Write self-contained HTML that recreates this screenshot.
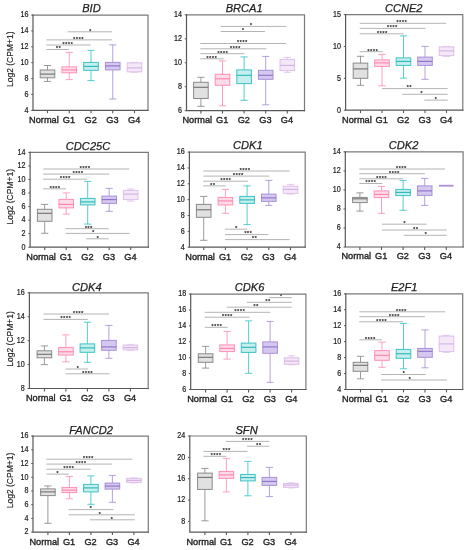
<!DOCTYPE html>
<html><head><meta charset="utf-8"><title>Box plots</title>
<style>
html,body{margin:0;padding:0;background:#fff;}
body{width:469px;height:550px;overflow:hidden;}
svg{display:block;}
text{font-family:'Liberation Sans', Arial, Helvetica, sans-serif;fill:#222222;}
.st{font-size:5.0px;text-anchor:middle;fill:#333;font-weight:bold;letter-spacing:0.8px;stroke:#333;stroke-width:0.15px;}
.yt{font-size:8.4px;text-anchor:end;stroke:#222222;stroke-width:0.22px;}
.xt{font-size:9.2px;text-anchor:middle;stroke:#222222;stroke-width:0.35px;}
.ti{font-size:11.1px;text-anchor:middle;font-style:italic;stroke:#222222;stroke-width:0.25px;}
.yl{font-size:8.5px;text-anchor:middle;stroke:#222222;stroke-width:0.15px;}
</style></head>
<body>
<svg width="469" height="550" viewBox="0 0 469 550">
<rect width="469" height="550" fill="#fff"/>
<g>
<line x1="46.4" y1="49.5" x2="68.8" y2="49.5" stroke="#b4b4b4" stroke-width="1.0"/>
<text x="58.8" y="50.3" class="st">**</text>
<line x1="46.4" y1="45" x2="90.7" y2="45" stroke="#b4b4b4" stroke-width="1.0"/>
<text x="68.1" y="45.8" class="st">****</text>
<line x1="46.4" y1="39.9" x2="112.1" y2="39.9" stroke="#b4b4b4" stroke-width="1.0"/>
<text x="78.8" y="40.7" class="st">****</text>
<line x1="67.7" y1="31.8" x2="112.1" y2="31.8" stroke="#b4b4b4" stroke-width="1.0"/>
<text x="90.7" y="32.6" class="st">*</text>
<path d="M47.5 65.5V70M47.5 77.8V81.4M43.9 65.5H51.1M43.9 81.4H51.1" stroke="#8a8a8a" stroke-width="1" fill="none" opacity="0.85"/>
<rect x="40.2" y="70" width="14.6" height="7.8" fill="#e1e1e1" stroke="#8a8a8a" stroke-width="1"/>
<line x1="40.2" y1="74.1" x2="54.8" y2="74.1" stroke="#707070" stroke-width="1.1"/>
<path d="M69.25 52.4V66.9M69.25 72.8V79.6M65.65 52.4H72.85M65.65 79.6H72.85" stroke="#ff8fb8" stroke-width="1" fill="none" opacity="0.85"/>
<rect x="61.95" y="66.9" width="14.6" height="5.9" fill="#ffdbe8" stroke="#ff8fb8" stroke-width="1"/>
<line x1="61.95" y1="69.9" x2="76.55" y2="69.9" stroke="#ff80ad" stroke-width="1.1"/>
<path d="M91 50.4V62.4M91 70.3V80.6M87.4 50.4H94.6M87.4 80.6H94.6" stroke="#3cc4c4" stroke-width="1" fill="none" opacity="0.85"/>
<rect x="83.7" y="62.4" width="14.6" height="7.9" fill="#c6eeee" stroke="#3cc4c4" stroke-width="1"/>
<line x1="83.7" y1="66.4" x2="98.3" y2="66.4" stroke="#28b6b6" stroke-width="1.1"/>
<path d="M112.75 44.9V62.4M112.75 69.9V99M109.15 44.9H116.35M109.15 99H116.35" stroke="#a98fdb" stroke-width="1" fill="none" opacity="0.85"/>
<rect x="105.45" y="62.4" width="14.6" height="7.5" fill="#d5c8ee" stroke="#a98fdb" stroke-width="1"/>
<line x1="105.45" y1="65.9" x2="120.05" y2="65.9" stroke="#8f6fca" stroke-width="1.1"/>
<path d="M134.5 62.4V62.9M134.5 71.8V72.3M130.9 62.4H138.1M130.9 72.3H138.1" stroke="#ddc0e9" stroke-width="1" fill="none" opacity="0.85"/>
<rect x="127.2" y="62.9" width="14.6" height="8.9" fill="#f4e7f7" stroke="#ddc0e9" stroke-width="1"/>
<line x1="127.2" y1="67.9" x2="141.8" y2="67.9" stroke="#d2b0e2" stroke-width="1.1"/>
<path d="M33 15.1H148V110.3" fill="none" stroke="#7a7a7a" stroke-width="1.2" stroke-linecap="square"/>
<path d="M33 15.1V110.3H148" fill="none" stroke="#585858" stroke-width="1.2" stroke-linecap="square"/>
<line x1="31.2" y1="110.3" x2="33" y2="110.3" stroke="#585858" stroke-width="1"/>
<text transform="translate(28.4 112.6) scale(0.85 1)" class="yt">4</text>
<line x1="31.2" y1="94.43" x2="33" y2="94.43" stroke="#585858" stroke-width="1"/>
<text transform="translate(28.4 96.73) scale(0.85 1)" class="yt">6</text>
<line x1="31.2" y1="78.57" x2="33" y2="78.57" stroke="#585858" stroke-width="1"/>
<text transform="translate(28.4 80.87) scale(0.85 1)" class="yt">8</text>
<line x1="31.2" y1="62.7" x2="33" y2="62.7" stroke="#585858" stroke-width="1"/>
<text transform="translate(28.4 65) scale(0.85 1)" class="yt">10</text>
<line x1="31.2" y1="46.83" x2="33" y2="46.83" stroke="#585858" stroke-width="1"/>
<text transform="translate(28.4 49.13) scale(0.85 1)" class="yt">12</text>
<line x1="31.2" y1="30.97" x2="33" y2="30.97" stroke="#585858" stroke-width="1"/>
<text transform="translate(28.4 33.27) scale(0.85 1)" class="yt">14</text>
<line x1="31.2" y1="15.1" x2="33" y2="15.1" stroke="#585858" stroke-width="1"/>
<text transform="translate(28.4 17.4) scale(0.85 1)" class="yt">16</text>
<line x1="47.5" y1="110.3" x2="47.5" y2="113.2" stroke="#585858" stroke-width="1.1"/>
<text x="43.9" y="122.7" class="xt">Normal</text>
<line x1="69.25" y1="110.3" x2="69.25" y2="113.2" stroke="#585858" stroke-width="1.1"/>
<text x="68.95" y="122.7" class="xt">G1</text>
<line x1="91" y1="110.3" x2="91" y2="113.2" stroke="#585858" stroke-width="1.1"/>
<text x="90.7" y="122.7" class="xt">G2</text>
<line x1="112.75" y1="110.3" x2="112.75" y2="113.2" stroke="#585858" stroke-width="1.1"/>
<text x="112.45" y="122.7" class="xt">G3</text>
<line x1="134.5" y1="110.3" x2="134.5" y2="113.2" stroke="#585858" stroke-width="1.1"/>
<text x="134.2" y="122.7" class="xt">G4</text>
<text x="91.45" y="12" class="ti">BID</text>
<text transform="translate(13.3 59.3) rotate(-90)" x="0" y="0" class="yl">Log2 (CPM+1)</text>
</g>
<g>
<line x1="200.3" y1="58.8" x2="223.8" y2="58.8" stroke="#b4b4b4" stroke-width="1.0"/>
<text x="211.9" y="59.6" class="st">****</text>
<line x1="200.3" y1="53.7" x2="244.5" y2="53.7" stroke="#b4b4b4" stroke-width="1.0"/>
<text x="223.1" y="54.5" class="st">****</text>
<line x1="200.3" y1="48.8" x2="266.4" y2="48.8" stroke="#b4b4b4" stroke-width="1.0"/>
<text x="235.6" y="49.6" class="st">****</text>
<line x1="200.3" y1="43.5" x2="286.3" y2="43.5" stroke="#b4b4b4" stroke-width="1.0"/>
<text x="242.6" y="44.3" class="st">****</text>
<line x1="220.6" y1="31.5" x2="264.9" y2="31.5" stroke="#b4b4b4" stroke-width="1.0"/>
<text x="243.4" y="32.3" class="st">*</text>
<line x1="220.6" y1="26.4" x2="286.3" y2="26.4" stroke="#b4b4b4" stroke-width="1.0"/>
<text x="251.3" y="27.2" class="st">*</text>
<path d="M200.9 77.3V82.3M200.9 98.5V106.3M197.3 77.3H204.5M197.3 106.3H204.5" stroke="#8a8a8a" stroke-width="1" fill="none" opacity="0.85"/>
<rect x="193.6" y="82.3" width="14.6" height="16.2" fill="#e1e1e1" stroke="#8a8a8a" stroke-width="1"/>
<line x1="193.6" y1="87.3" x2="208.2" y2="87.3" stroke="#707070" stroke-width="1.1"/>
<path d="M222.5 60.9V74.3M222.5 85.3V105.8M218.9 60.9H226.1M218.9 105.8H226.1" stroke="#ff8fb8" stroke-width="1" fill="none" opacity="0.85"/>
<rect x="215.2" y="74.3" width="14.6" height="11" fill="#ffdbe8" stroke="#ff8fb8" stroke-width="1"/>
<line x1="215.2" y1="78.8" x2="229.8" y2="78.8" stroke="#ff80ad" stroke-width="1.1"/>
<path d="M244.1 56.9V69.9M244.1 83.6V100.3M240.5 56.9H247.7M240.5 100.3H247.7" stroke="#3cc4c4" stroke-width="1" fill="none" opacity="0.85"/>
<rect x="236.8" y="69.9" width="14.6" height="13.7" fill="#c6eeee" stroke="#3cc4c4" stroke-width="1"/>
<line x1="236.8" y1="75.3" x2="251.4" y2="75.3" stroke="#28b6b6" stroke-width="1.1"/>
<path d="M265.7 56.4V70.3M265.7 79.3V104.8M262.1 56.4H269.3M262.1 104.8H269.3" stroke="#a98fdb" stroke-width="1" fill="none" opacity="0.85"/>
<rect x="258.4" y="70.3" width="14.6" height="9" fill="#d5c8ee" stroke="#a98fdb" stroke-width="1"/>
<line x1="258.4" y1="75.3" x2="273" y2="75.3" stroke="#8f6fca" stroke-width="1.1"/>
<path d="M287.3 57.4V59.4M287.3 70.6V72.3M283.7 57.4H290.9M283.7 72.3H290.9" stroke="#ddc0e9" stroke-width="1" fill="none" opacity="0.85"/>
<rect x="280" y="59.4" width="14.6" height="11.2" fill="#f4e7f7" stroke="#ddc0e9" stroke-width="1"/>
<line x1="280" y1="65.4" x2="294.6" y2="65.4" stroke="#d2b0e2" stroke-width="1.1"/>
<path d="M186.5 14.85H304.5V110.7" fill="none" stroke="#7a7a7a" stroke-width="1.2" stroke-linecap="square"/>
<path d="M186.5 14.85V110.7H304.5" fill="none" stroke="#585858" stroke-width="1.2" stroke-linecap="square"/>
<line x1="184.7" y1="110.7" x2="186.5" y2="110.7" stroke="#585858" stroke-width="1"/>
<text transform="translate(181.9 113) scale(0.85 1)" class="yt">6</text>
<line x1="184.7" y1="86.74" x2="186.5" y2="86.74" stroke="#585858" stroke-width="1"/>
<text transform="translate(181.9 89.04) scale(0.85 1)" class="yt">8</text>
<line x1="184.7" y1="62.77" x2="186.5" y2="62.77" stroke="#585858" stroke-width="1"/>
<text transform="translate(181.9 65.08) scale(0.85 1)" class="yt">10</text>
<line x1="184.7" y1="38.81" x2="186.5" y2="38.81" stroke="#585858" stroke-width="1"/>
<text transform="translate(181.9 41.11) scale(0.85 1)" class="yt">12</text>
<line x1="184.7" y1="14.85" x2="186.5" y2="14.85" stroke="#585858" stroke-width="1"/>
<text transform="translate(181.9 17.15) scale(0.85 1)" class="yt">14</text>
<line x1="200.9" y1="110.7" x2="200.9" y2="113.6" stroke="#585858" stroke-width="1.1"/>
<text x="197.3" y="123.1" class="xt">Normal</text>
<line x1="222.5" y1="110.7" x2="222.5" y2="113.6" stroke="#585858" stroke-width="1.1"/>
<text x="222.2" y="123.1" class="xt">G1</text>
<line x1="244.1" y1="110.7" x2="244.1" y2="113.6" stroke="#585858" stroke-width="1.1"/>
<text x="243.8" y="123.1" class="xt">G2</text>
<line x1="265.7" y1="110.7" x2="265.7" y2="113.6" stroke="#585858" stroke-width="1.1"/>
<text x="265.4" y="123.1" class="xt">G3</text>
<line x1="287.3" y1="110.7" x2="287.3" y2="113.6" stroke="#585858" stroke-width="1.1"/>
<text x="287" y="123.1" class="xt">G4</text>
<text x="244.2" y="12" class="ti">BRCA1</text>
</g>
<g>
<line x1="359.7" y1="51.7" x2="382.7" y2="51.7" stroke="#b4b4b4" stroke-width="1.0"/>
<text x="373.1" y="52.5" class="st">****</text>
<line x1="359.7" y1="33.8" x2="403.6" y2="33.8" stroke="#b4b4b4" stroke-width="1.0"/>
<text x="382.5" y="34.6" class="st">****</text>
<line x1="359.7" y1="28.4" x2="425.4" y2="28.4" stroke="#b4b4b4" stroke-width="1.0"/>
<text x="392.4" y="29.2" class="st">****</text>
<line x1="359.7" y1="23.3" x2="446.3" y2="23.3" stroke="#b4b4b4" stroke-width="1.0"/>
<text x="402" y="24.1" class="st">****</text>
<line x1="381.9" y1="88.6" x2="447.7" y2="88.6" stroke="#b4b4b4" stroke-width="1.0"/>
<text x="409.6" y="89.4" class="st">**</text>
<line x1="402.2" y1="94.3" x2="447.7" y2="94.3" stroke="#b4b4b4" stroke-width="1.0"/>
<text x="421.8" y="95.1" class="st">*</text>
<line x1="424.3" y1="100.1" x2="447.7" y2="100.1" stroke="#b4b4b4" stroke-width="1.0"/>
<text x="436" y="100.9" class="st">*</text>
<path d="M360.5 56.3V63.1M360.5 78.3V85.3M356.9 56.3H364.1M356.9 85.3H364.1" stroke="#8a8a8a" stroke-width="1" fill="none" opacity="0.85"/>
<rect x="353.2" y="63.1" width="14.6" height="15.2" fill="#e1e1e1" stroke="#8a8a8a" stroke-width="1"/>
<line x1="353.2" y1="68.9" x2="367.8" y2="68.9" stroke="#707070" stroke-width="1.1"/>
<path d="M382 54.4V59.9M382 66.4V85.8M378.4 54.4H385.6M378.4 85.8H385.6" stroke="#ff8fb8" stroke-width="1" fill="none" opacity="0.85"/>
<rect x="374.7" y="59.9" width="14.6" height="6.5" fill="#ffdbe8" stroke="#ff8fb8" stroke-width="1"/>
<line x1="374.7" y1="62.9" x2="389.3" y2="62.9" stroke="#ff80ad" stroke-width="1.1"/>
<path d="M403.5 35.9V57.9M403.5 65.4V78.1M399.9 35.9H407.1M399.9 78.1H407.1" stroke="#3cc4c4" stroke-width="1" fill="none" opacity="0.85"/>
<rect x="396.2" y="57.9" width="14.6" height="7.5" fill="#c6eeee" stroke="#3cc4c4" stroke-width="1"/>
<line x1="396.2" y1="61.4" x2="410.8" y2="61.4" stroke="#28b6b6" stroke-width="1.1"/>
<path d="M425 46.4V57.1M425 65.4V79.3M421.4 46.4H428.6M421.4 79.3H428.6" stroke="#a98fdb" stroke-width="1" fill="none" opacity="0.85"/>
<rect x="417.7" y="57.1" width="14.6" height="8.3" fill="#d5c8ee" stroke="#a98fdb" stroke-width="1"/>
<line x1="417.7" y1="61.4" x2="432.3" y2="61.4" stroke="#8f6fca" stroke-width="1.1"/>
<path d="M446.5 46.4V46.9M446.5 55.6V56.4M442.9 46.4H450.1M442.9 56.4H450.1" stroke="#ddc0e9" stroke-width="1" fill="none" opacity="0.85"/>
<rect x="439.2" y="46.9" width="14.6" height="8.7" fill="#f4e7f7" stroke="#ddc0e9" stroke-width="1"/>
<line x1="439.2" y1="50.9" x2="453.8" y2="50.9" stroke="#d2b0e2" stroke-width="1.1"/>
<path d="M345.6 14.6H462.8V110.2" fill="none" stroke="#7a7a7a" stroke-width="1.2" stroke-linecap="square"/>
<path d="M345.6 14.6V110.2H462.8" fill="none" stroke="#585858" stroke-width="1.2" stroke-linecap="square"/>
<line x1="343.8" y1="110.2" x2="345.6" y2="110.2" stroke="#585858" stroke-width="1"/>
<text transform="translate(341 112.5) scale(0.85 1)" class="yt">0</text>
<line x1="343.8" y1="78.33" x2="345.6" y2="78.33" stroke="#585858" stroke-width="1"/>
<text transform="translate(341 80.63) scale(0.85 1)" class="yt">5</text>
<line x1="343.8" y1="46.47" x2="345.6" y2="46.47" stroke="#585858" stroke-width="1"/>
<text transform="translate(341 48.77) scale(0.85 1)" class="yt">10</text>
<line x1="343.8" y1="14.6" x2="345.6" y2="14.6" stroke="#585858" stroke-width="1"/>
<text transform="translate(341 16.9) scale(0.85 1)" class="yt">15</text>
<line x1="360.5" y1="110.2" x2="360.5" y2="113.1" stroke="#585858" stroke-width="1.1"/>
<text x="356.9" y="122.6" class="xt">Normal</text>
<line x1="382" y1="110.2" x2="382" y2="113.1" stroke="#585858" stroke-width="1.1"/>
<text x="381.7" y="122.6" class="xt">G1</text>
<line x1="403.5" y1="110.2" x2="403.5" y2="113.1" stroke="#585858" stroke-width="1.1"/>
<text x="403.2" y="122.6" class="xt">G2</text>
<line x1="425" y1="110.2" x2="425" y2="113.1" stroke="#585858" stroke-width="1.1"/>
<text x="424.7" y="122.6" class="xt">G3</text>
<line x1="446.5" y1="110.2" x2="446.5" y2="113.1" stroke="#585858" stroke-width="1.1"/>
<text x="446.2" y="122.6" class="xt">G4</text>
<text x="403.7" y="12" class="ti">CCNE2</text>
</g>
<g>
<line x1="43.2" y1="188.8" x2="66" y2="188.8" stroke="#b4b4b4" stroke-width="1.0"/>
<text x="55.3" y="189.6" class="st">****</text>
<line x1="43.2" y1="179.2" x2="87.3" y2="179.2" stroke="#b4b4b4" stroke-width="1.0"/>
<text x="65.45" y="180" class="st">****</text>
<line x1="43.2" y1="174.1" x2="109.3" y2="174.1" stroke="#b4b4b4" stroke-width="1.0"/>
<text x="78.2" y="174.9" class="st">****</text>
<line x1="43.2" y1="169" x2="129.1" y2="169" stroke="#b4b4b4" stroke-width="1.0"/>
<text x="85.2" y="169.8" class="st">****</text>
<line x1="65.6" y1="228.7" x2="108.7" y2="228.7" stroke="#b4b4b4" stroke-width="1.0"/>
<text x="89" y="229.5" class="st">***</text>
<line x1="65.6" y1="233.4" x2="129.6" y2="233.4" stroke="#b4b4b4" stroke-width="1.0"/>
<text x="93.7" y="234.2" class="st">*</text>
<line x1="86.1" y1="238.8" x2="108.7" y2="238.8" stroke="#b4b4b4" stroke-width="1.0"/>
<text x="98" y="239.6" class="st">*</text>
<path d="M44.7 204.4V209.3M44.7 221.3V233.3M41.1 204.4H48.3M41.1 233.3H48.3" stroke="#8a8a8a" stroke-width="1" fill="none" opacity="0.85"/>
<rect x="37.4" y="209.3" width="14.6" height="12" fill="#e1e1e1" stroke="#8a8a8a" stroke-width="1"/>
<line x1="37.4" y1="213.3" x2="52" y2="213.3" stroke="#707070" stroke-width="1.1"/>
<path d="M66.2 192.9V199.4M66.2 207.9V214.1M62.6 192.9H69.8M62.6 214.1H69.8" stroke="#ff8fb8" stroke-width="1" fill="none" opacity="0.85"/>
<rect x="58.9" y="199.4" width="14.6" height="8.5" fill="#ffdbe8" stroke="#ff8fb8" stroke-width="1"/>
<line x1="58.9" y1="204.4" x2="73.5" y2="204.4" stroke="#ff80ad" stroke-width="1.1"/>
<path d="M87.7 181.4V198.4M87.7 204.9V224.1M84.1 181.4H91.3M84.1 224.1H91.3" stroke="#3cc4c4" stroke-width="1" fill="none" opacity="0.85"/>
<rect x="80.4" y="198.4" width="14.6" height="6.5" fill="#c6eeee" stroke="#3cc4c4" stroke-width="1"/>
<line x1="80.4" y1="201.9" x2="95" y2="201.9" stroke="#28b6b6" stroke-width="1.1"/>
<path d="M109.2 188.4V196.1M109.2 203.4V211.3M105.6 188.4H112.8M105.6 211.3H112.8" stroke="#a98fdb" stroke-width="1" fill="none" opacity="0.85"/>
<rect x="101.9" y="196.1" width="14.6" height="7.3" fill="#d5c8ee" stroke="#a98fdb" stroke-width="1"/>
<line x1="101.9" y1="199.6" x2="116.5" y2="199.6" stroke="#8f6fca" stroke-width="1.1"/>
<path d="M130.7 189.1V190.4M130.7 199.6V201.1M127.1 189.1H134.3M127.1 201.1H134.3" stroke="#ddc0e9" stroke-width="1" fill="none" opacity="0.85"/>
<rect x="123.4" y="190.4" width="14.6" height="9.2" fill="#f4e7f7" stroke="#ddc0e9" stroke-width="1"/>
<line x1="123.4" y1="194.1" x2="138" y2="194.1" stroke="#d2b0e2" stroke-width="1.1"/>
<path d="M30.1 152.4H148.3V247.2" fill="none" stroke="#7a7a7a" stroke-width="1.2" stroke-linecap="square"/>
<path d="M30.1 152.4V247.2H148.3" fill="none" stroke="#585858" stroke-width="1.2" stroke-linecap="square"/>
<line x1="28.3" y1="247.2" x2="30.1" y2="247.2" stroke="#585858" stroke-width="1"/>
<text transform="translate(25.5 249.5) scale(0.85 1)" class="yt">0</text>
<line x1="28.3" y1="233.66" x2="30.1" y2="233.66" stroke="#585858" stroke-width="1"/>
<text transform="translate(25.5 235.96) scale(0.85 1)" class="yt">2</text>
<line x1="28.3" y1="220.11" x2="30.1" y2="220.11" stroke="#585858" stroke-width="1"/>
<text transform="translate(25.5 222.41) scale(0.85 1)" class="yt">4</text>
<line x1="28.3" y1="206.57" x2="30.1" y2="206.57" stroke="#585858" stroke-width="1"/>
<text transform="translate(25.5 208.87) scale(0.85 1)" class="yt">6</text>
<line x1="28.3" y1="193.03" x2="30.1" y2="193.03" stroke="#585858" stroke-width="1"/>
<text transform="translate(25.5 195.33) scale(0.85 1)" class="yt">8</text>
<line x1="28.3" y1="179.49" x2="30.1" y2="179.49" stroke="#585858" stroke-width="1"/>
<text transform="translate(25.5 181.79) scale(0.85 1)" class="yt">10</text>
<line x1="28.3" y1="165.94" x2="30.1" y2="165.94" stroke="#585858" stroke-width="1"/>
<text transform="translate(25.5 168.24) scale(0.85 1)" class="yt">12</text>
<line x1="28.3" y1="152.4" x2="30.1" y2="152.4" stroke="#585858" stroke-width="1"/>
<text transform="translate(25.5 154.7) scale(0.85 1)" class="yt">14</text>
<line x1="44.7" y1="247.2" x2="44.7" y2="250.1" stroke="#585858" stroke-width="1.1"/>
<text x="41.1" y="259.6" class="xt">Normal</text>
<line x1="66.2" y1="247.2" x2="66.2" y2="250.1" stroke="#585858" stroke-width="1.1"/>
<text x="65.9" y="259.6" class="xt">G1</text>
<line x1="87.7" y1="247.2" x2="87.7" y2="250.1" stroke="#585858" stroke-width="1.1"/>
<text x="87.4" y="259.6" class="xt">G2</text>
<line x1="109.2" y1="247.2" x2="109.2" y2="250.1" stroke="#585858" stroke-width="1.1"/>
<text x="108.9" y="259.6" class="xt">G3</text>
<line x1="130.7" y1="247.2" x2="130.7" y2="250.1" stroke="#585858" stroke-width="1.1"/>
<text x="130.4" y="259.6" class="xt">G4</text>
<text x="88.05" y="149.6" class="ti">CDC25C</text>
<text transform="translate(13.3 196.8) rotate(-90)" x="0" y="0" class="yl">Log2 (CPM+1)</text>
</g>
<g>
<line x1="203.3" y1="185.9" x2="225.7" y2="185.9" stroke="#b4b4b4" stroke-width="1.0"/>
<text x="212.9" y="186.7" class="st">**</text>
<line x1="203.3" y1="181.2" x2="248.1" y2="181.2" stroke="#b4b4b4" stroke-width="1.0"/>
<text x="226" y="182" class="st">****</text>
<line x1="203.3" y1="176.1" x2="269.4" y2="176.1" stroke="#b4b4b4" stroke-width="1.0"/>
<text x="238.4" y="176.9" class="st">****</text>
<line x1="203.3" y1="171" x2="289.7" y2="171" stroke="#b4b4b4" stroke-width="1.0"/>
<text x="245.3" y="171.8" class="st">****</text>
<line x1="225" y1="229.2" x2="247.2" y2="229.2" stroke="#b4b4b4" stroke-width="1.0"/>
<text x="236.5" y="230" class="st">*</text>
<line x1="225" y1="234.6" x2="268.4" y2="234.6" stroke="#b4b4b4" stroke-width="1.0"/>
<text x="248.5" y="235.4" class="st">***</text>
<line x1="225" y1="239.6" x2="289.5" y2="239.6" stroke="#b4b4b4" stroke-width="1.0"/>
<text x="254.7" y="240.4" class="st">**</text>
<path d="M203.7 196.4V204.4M203.7 217.3V240.3M200.1 196.4H207.3M200.1 240.3H207.3" stroke="#8a8a8a" stroke-width="1" fill="none" opacity="0.85"/>
<rect x="196.4" y="204.4" width="14.6" height="12.9" fill="#e1e1e1" stroke="#8a8a8a" stroke-width="1"/>
<line x1="196.4" y1="209.8" x2="211" y2="209.8" stroke="#707070" stroke-width="1.1"/>
<path d="M225.4 189.4V197.4M225.4 204.9V213.3M221.8 189.4H229M221.8 213.3H229" stroke="#ff8fb8" stroke-width="1" fill="none" opacity="0.85"/>
<rect x="218.1" y="197.4" width="14.6" height="7.5" fill="#ffdbe8" stroke="#ff8fb8" stroke-width="1"/>
<line x1="218.1" y1="200.9" x2="232.7" y2="200.9" stroke="#ff80ad" stroke-width="1.1"/>
<path d="M247.1 185.9V196.4M247.1 203.4V224.6M243.5 185.9H250.7M243.5 224.6H250.7" stroke="#3cc4c4" stroke-width="1" fill="none" opacity="0.85"/>
<rect x="239.8" y="196.4" width="14.6" height="7" fill="#c6eeee" stroke="#3cc4c4" stroke-width="1"/>
<line x1="239.8" y1="199.9" x2="254.4" y2="199.9" stroke="#28b6b6" stroke-width="1.1"/>
<path d="M268.8 180.4V194.1M268.8 201.4V205.4M265.2 180.4H272.4M265.2 205.4H272.4" stroke="#a98fdb" stroke-width="1" fill="none" opacity="0.85"/>
<rect x="261.5" y="194.1" width="14.6" height="7.3" fill="#d5c8ee" stroke="#a98fdb" stroke-width="1"/>
<line x1="261.5" y1="197.9" x2="276.1" y2="197.9" stroke="#8f6fca" stroke-width="1.1"/>
<path d="M290.5 184.4V186.2M290.5 193.4V194.1M286.9 184.4H294.1M286.9 194.1H294.1" stroke="#ddc0e9" stroke-width="1" fill="none" opacity="0.85"/>
<rect x="283.2" y="186.2" width="14.6" height="7.2" fill="#f4e7f7" stroke="#ddc0e9" stroke-width="1"/>
<line x1="283.2" y1="189.4" x2="297.8" y2="189.4" stroke="#d2b0e2" stroke-width="1.1"/>
<path d="M189.4 152.1H305.2V247.2" fill="none" stroke="#7a7a7a" stroke-width="1.2" stroke-linecap="square"/>
<path d="M189.4 152.1V247.2H305.2" fill="none" stroke="#585858" stroke-width="1.2" stroke-linecap="square"/>
<line x1="187.6" y1="247.2" x2="189.4" y2="247.2" stroke="#585858" stroke-width="1"/>
<text transform="translate(184.8 249.5) scale(0.85 1)" class="yt">4</text>
<line x1="187.6" y1="231.35" x2="189.4" y2="231.35" stroke="#585858" stroke-width="1"/>
<text transform="translate(184.8 233.65) scale(0.85 1)" class="yt">6</text>
<line x1="187.6" y1="215.5" x2="189.4" y2="215.5" stroke="#585858" stroke-width="1"/>
<text transform="translate(184.8 217.8) scale(0.85 1)" class="yt">8</text>
<line x1="187.6" y1="199.65" x2="189.4" y2="199.65" stroke="#585858" stroke-width="1"/>
<text transform="translate(184.8 201.95) scale(0.85 1)" class="yt">10</text>
<line x1="187.6" y1="183.8" x2="189.4" y2="183.8" stroke="#585858" stroke-width="1"/>
<text transform="translate(184.8 186.1) scale(0.85 1)" class="yt">12</text>
<line x1="187.6" y1="167.95" x2="189.4" y2="167.95" stroke="#585858" stroke-width="1"/>
<text transform="translate(184.8 170.25) scale(0.85 1)" class="yt">14</text>
<line x1="187.6" y1="152.1" x2="189.4" y2="152.1" stroke="#585858" stroke-width="1"/>
<text transform="translate(184.8 154.4) scale(0.85 1)" class="yt">16</text>
<line x1="203.7" y1="247.2" x2="203.7" y2="250.1" stroke="#585858" stroke-width="1.1"/>
<text x="200.1" y="259.6" class="xt">Normal</text>
<line x1="225.4" y1="247.2" x2="225.4" y2="250.1" stroke="#585858" stroke-width="1.1"/>
<text x="225.1" y="259.6" class="xt">G1</text>
<line x1="247.1" y1="247.2" x2="247.1" y2="250.1" stroke="#585858" stroke-width="1.1"/>
<text x="246.8" y="259.6" class="xt">G2</text>
<line x1="268.8" y1="247.2" x2="268.8" y2="250.1" stroke="#585858" stroke-width="1.1"/>
<text x="268.5" y="259.6" class="xt">G3</text>
<line x1="290.5" y1="247.2" x2="290.5" y2="250.1" stroke="#585858" stroke-width="1.1"/>
<text x="290.2" y="259.6" class="xt">G4</text>
<text x="247.9" y="149.2" class="ti">CDK1</text>
</g>
<g>
<line x1="359.3" y1="183.5" x2="382.3" y2="183.5" stroke="#b4b4b4" stroke-width="1.0"/>
<text x="370.9" y="184.3" class="st">****</text>
<line x1="359.3" y1="178.8" x2="403" y2="178.8" stroke="#b4b4b4" stroke-width="1.0"/>
<text x="381.7" y="179.6" class="st">****</text>
<line x1="359.3" y1="173.7" x2="424.9" y2="173.7" stroke="#b4b4b4" stroke-width="1.0"/>
<text x="394.5" y="174.5" class="st">****</text>
<line x1="359.3" y1="169" x2="445" y2="169" stroke="#b4b4b4" stroke-width="1.0"/>
<text x="401.5" y="169.8" class="st">****</text>
<line x1="381.9" y1="224.2" x2="426.6" y2="224.2" stroke="#b4b4b4" stroke-width="1.0"/>
<text x="404.9" y="225" class="st">*</text>
<line x1="381.9" y1="230" x2="446.8" y2="230" stroke="#b4b4b4" stroke-width="1.0"/>
<text x="416.1" y="230.8" class="st">**</text>
<line x1="403.6" y1="235.3" x2="446.8" y2="235.3" stroke="#b4b4b4" stroke-width="1.0"/>
<text x="426.1" y="236.1" class="st">*</text>
<path d="M359.9 192.9V197.4M359.9 202.6V211.1M356.3 192.9H363.5M356.3 211.1H363.5" stroke="#8a8a8a" stroke-width="1" fill="none" opacity="0.85"/>
<rect x="352.6" y="197.4" width="14.6" height="5.2" fill="#e1e1e1" stroke="#8a8a8a" stroke-width="1"/>
<line x1="352.6" y1="198.8" x2="367.2" y2="198.8" stroke="#707070" stroke-width="1.1"/>
<path d="M381.5 186.4V190.9M381.5 197.6V213.3M377.9 186.4H385.1M377.9 213.3H385.1" stroke="#ff8fb8" stroke-width="1" fill="none" opacity="0.85"/>
<rect x="374.2" y="190.9" width="14.6" height="6.7" fill="#ffdbe8" stroke="#ff8fb8" stroke-width="1"/>
<line x1="374.2" y1="194.4" x2="388.8" y2="194.4" stroke="#ff80ad" stroke-width="1.1"/>
<path d="M403.1 180.4V189.4M403.1 195.6V210.3M399.5 180.4H406.7M399.5 210.3H406.7" stroke="#3cc4c4" stroke-width="1" fill="none" opacity="0.85"/>
<rect x="395.8" y="189.4" width="14.6" height="6.2" fill="#c6eeee" stroke="#3cc4c4" stroke-width="1"/>
<line x1="395.8" y1="192.4" x2="410.4" y2="192.4" stroke="#28b6b6" stroke-width="1.1"/>
<path d="M424.7 178.4V185.9M424.7 195.4V205.4M421.1 178.4H428.3M421.1 205.4H428.3" stroke="#a98fdb" stroke-width="1" fill="none" opacity="0.85"/>
<rect x="417.4" y="185.9" width="14.6" height="9.5" fill="#d5c8ee" stroke="#a98fdb" stroke-width="1"/>
<line x1="417.4" y1="190.9" x2="432" y2="190.9" stroke="#8f6fca" stroke-width="1.1"/>
<line x1="439" y1="185.7" x2="453.6" y2="185.7" stroke="#ac8fd9" stroke-width="1.8"/>
<path d="M345.3 151.9H463.1V247" fill="none" stroke="#7a7a7a" stroke-width="1.2" stroke-linecap="square"/>
<path d="M345.3 151.9V247H463.1" fill="none" stroke="#585858" stroke-width="1.2" stroke-linecap="square"/>
<line x1="343.5" y1="247" x2="345.3" y2="247" stroke="#585858" stroke-width="1"/>
<text transform="translate(340.7 249.3) scale(0.85 1)" class="yt">4</text>
<line x1="343.5" y1="227.98" x2="345.3" y2="227.98" stroke="#585858" stroke-width="1"/>
<text transform="translate(340.7 230.28) scale(0.85 1)" class="yt">6</text>
<line x1="343.5" y1="208.96" x2="345.3" y2="208.96" stroke="#585858" stroke-width="1"/>
<text transform="translate(340.7 211.26) scale(0.85 1)" class="yt">8</text>
<line x1="343.5" y1="189.94" x2="345.3" y2="189.94" stroke="#585858" stroke-width="1"/>
<text transform="translate(340.7 192.24) scale(0.85 1)" class="yt">10</text>
<line x1="343.5" y1="170.92" x2="345.3" y2="170.92" stroke="#585858" stroke-width="1"/>
<text transform="translate(340.7 173.22) scale(0.85 1)" class="yt">12</text>
<line x1="343.5" y1="151.9" x2="345.3" y2="151.9" stroke="#585858" stroke-width="1"/>
<text transform="translate(340.7 154.2) scale(0.85 1)" class="yt">14</text>
<line x1="359.9" y1="247" x2="359.9" y2="249.9" stroke="#585858" stroke-width="1.1"/>
<text x="356.3" y="259.4" class="xt">Normal</text>
<line x1="381.5" y1="247" x2="381.5" y2="249.9" stroke="#585858" stroke-width="1.1"/>
<text x="381.2" y="259.4" class="xt">G1</text>
<line x1="403.1" y1="247" x2="403.1" y2="249.9" stroke="#585858" stroke-width="1.1"/>
<text x="402.8" y="259.4" class="xt">G2</text>
<line x1="424.7" y1="247" x2="424.7" y2="249.9" stroke="#585858" stroke-width="1.1"/>
<text x="424.4" y="259.4" class="xt">G3</text>
<line x1="446.3" y1="247" x2="446.3" y2="249.9" stroke="#585858" stroke-width="1.1"/>
<text x="446" y="259.4" class="xt">G4</text>
<text x="403.5" y="149.2" class="ti">CDK2</text>
</g>
<g>
<line x1="43.4" y1="314" x2="109" y2="314" stroke="#b4b4b4" stroke-width="1.0"/>
<text x="78.5" y="314.8" class="st">****</text>
<line x1="43.4" y1="319.4" x2="87.9" y2="319.4" stroke="#b4b4b4" stroke-width="1.0"/>
<text x="66" y="320.2" class="st">****</text>
<line x1="65.6" y1="369" x2="88" y2="369" stroke="#b4b4b4" stroke-width="1.0"/>
<text x="78" y="369.8" class="st">*</text>
<line x1="65.6" y1="373.8" x2="109.7" y2="373.8" stroke="#b4b4b4" stroke-width="1.0"/>
<text x="87.7" y="374.6" class="st">****</text>
<path d="M44.4 345.9V350.8M44.4 357.8V364.6M40.8 345.9H48M40.8 364.6H48" stroke="#8a8a8a" stroke-width="1" fill="none" opacity="0.85"/>
<rect x="37.1" y="350.8" width="14.6" height="7" fill="#e1e1e1" stroke="#8a8a8a" stroke-width="1"/>
<line x1="37.1" y1="354.3" x2="51.7" y2="354.3" stroke="#707070" stroke-width="1.1"/>
<path d="M65.9 334.9V347.4M65.9 355.1V361.8M62.3 334.9H69.5M62.3 361.8H69.5" stroke="#ff8fb8" stroke-width="1" fill="none" opacity="0.85"/>
<rect x="58.6" y="347.4" width="14.6" height="7.7" fill="#ffdbe8" stroke="#ff8fb8" stroke-width="1"/>
<line x1="58.6" y1="351.8" x2="73.2" y2="351.8" stroke="#ff80ad" stroke-width="1.1"/>
<path d="M87.4 322.2V343.9M87.4 352.3V362.3M83.8 322.2H91M83.8 362.3H91" stroke="#3cc4c4" stroke-width="1" fill="none" opacity="0.85"/>
<rect x="80.1" y="343.9" width="14.6" height="8.4" fill="#c6eeee" stroke="#3cc4c4" stroke-width="1"/>
<line x1="80.1" y1="347.9" x2="94.7" y2="347.9" stroke="#28b6b6" stroke-width="1.1"/>
<path d="M108.9 325.4V340.4M108.9 350.3V358.3M105.3 325.4H112.5M105.3 358.3H112.5" stroke="#a98fdb" stroke-width="1" fill="none" opacity="0.85"/>
<rect x="101.6" y="340.4" width="14.6" height="9.9" fill="#d5c8ee" stroke="#a98fdb" stroke-width="1"/>
<line x1="101.6" y1="346.9" x2="116.2" y2="346.9" stroke="#8f6fca" stroke-width="1.1"/>
<path d="M130.4 344.4V345.1M130.4 349.8V350.3M126.8 344.4H134M126.8 350.3H134" stroke="#ddc0e9" stroke-width="1" fill="none" opacity="0.85"/>
<rect x="123.1" y="345.1" width="14.6" height="4.7" fill="#f4e7f7" stroke="#ddc0e9" stroke-width="1"/>
<line x1="123.1" y1="347.6" x2="137.7" y2="347.6" stroke="#d2b0e2" stroke-width="1.1"/>
<path d="M29.4 292.8H148.2V388.5" fill="none" stroke="#7a7a7a" stroke-width="1.2" stroke-linecap="square"/>
<path d="M29.4 292.8V388.5H148.2" fill="none" stroke="#585858" stroke-width="1.2" stroke-linecap="square"/>
<line x1="27.6" y1="388.5" x2="29.4" y2="388.5" stroke="#585858" stroke-width="1"/>
<text transform="translate(24.8 390.8) scale(0.85 1)" class="yt">8</text>
<line x1="27.6" y1="364.57" x2="29.4" y2="364.57" stroke="#585858" stroke-width="1"/>
<text transform="translate(24.8 366.88) scale(0.85 1)" class="yt">10</text>
<line x1="27.6" y1="340.65" x2="29.4" y2="340.65" stroke="#585858" stroke-width="1"/>
<text transform="translate(24.8 342.95) scale(0.85 1)" class="yt">12</text>
<line x1="27.6" y1="316.73" x2="29.4" y2="316.73" stroke="#585858" stroke-width="1"/>
<text transform="translate(24.8 319.03) scale(0.85 1)" class="yt">14</text>
<line x1="27.6" y1="292.8" x2="29.4" y2="292.8" stroke="#585858" stroke-width="1"/>
<text transform="translate(24.8 295.1) scale(0.85 1)" class="yt">16</text>
<line x1="44.4" y1="388.5" x2="44.4" y2="391.4" stroke="#585858" stroke-width="1.1"/>
<text x="40.8" y="400.9" class="xt">Normal</text>
<line x1="65.9" y1="388.5" x2="65.9" y2="391.4" stroke="#585858" stroke-width="1.1"/>
<text x="65.6" y="400.9" class="xt">G1</text>
<line x1="87.4" y1="388.5" x2="87.4" y2="391.4" stroke="#585858" stroke-width="1.1"/>
<text x="87.1" y="400.9" class="xt">G2</text>
<line x1="108.9" y1="388.5" x2="108.9" y2="391.4" stroke="#585858" stroke-width="1.1"/>
<text x="108.6" y="400.9" class="xt">G3</text>
<line x1="130.4" y1="388.5" x2="130.4" y2="391.4" stroke="#585858" stroke-width="1.1"/>
<text x="130.1" y="400.9" class="xt">G4</text>
<text x="86.9" y="290.9" class="ti">CDK4</text>
<text transform="translate(13.3 338.95) rotate(-90)" x="0" y="0" class="yl">Log2 (CPM+1)</text>
</g>
<g>
<line x1="204.7" y1="327.3" x2="227.7" y2="327.3" stroke="#b4b4b4" stroke-width="1.0"/>
<text x="216.9" y="328.1" class="st">****</text>
<line x1="204.7" y1="317.2" x2="249.5" y2="317.2" stroke="#b4b4b4" stroke-width="1.0"/>
<text x="227.4" y="318" class="st">****</text>
<line x1="204.7" y1="312.3" x2="270.4" y2="312.3" stroke="#b4b4b4" stroke-width="1.0"/>
<text x="240" y="313.1" class="st">****</text>
<line x1="226.7" y1="307.2" x2="291.7" y2="307.2" stroke="#b4b4b4" stroke-width="1.0"/>
<text x="256.3" y="308" class="st">**</text>
<line x1="246.9" y1="302.3" x2="291.7" y2="302.3" stroke="#b4b4b4" stroke-width="1.0"/>
<text x="268.2" y="303.1" class="st">**</text>
<line x1="269.3" y1="297.6" x2="291.7" y2="297.6" stroke="#b4b4b4" stroke-width="1.0"/>
<text x="281.4" y="298.4" class="st">*</text>
<path d="M205.6 346.4V353.8M205.6 362.3V368.1M202 346.4H209.2M202 368.1H209.2" stroke="#8a8a8a" stroke-width="1" fill="none" opacity="0.85"/>
<rect x="198.3" y="353.8" width="14.6" height="8.5" fill="#e1e1e1" stroke="#8a8a8a" stroke-width="1"/>
<line x1="198.3" y1="357.3" x2="212.9" y2="357.3" stroke="#707070" stroke-width="1.1"/>
<path d="M227.1 331.4V344.9M227.1 351.6V359.1M223.5 331.4H230.7M223.5 359.1H230.7" stroke="#ff8fb8" stroke-width="1" fill="none" opacity="0.85"/>
<rect x="219.8" y="344.9" width="14.6" height="6.7" fill="#ffdbe8" stroke="#ff8fb8" stroke-width="1"/>
<line x1="219.8" y1="348.4" x2="234.4" y2="348.4" stroke="#ff80ad" stroke-width="1.1"/>
<path d="M248.6 320.9V343.1M248.6 352.4V373.3M245 320.9H252.2M245 373.3H252.2" stroke="#3cc4c4" stroke-width="1" fill="none" opacity="0.85"/>
<rect x="241.3" y="343.1" width="14.6" height="9.3" fill="#c6eeee" stroke="#3cc4c4" stroke-width="1"/>
<line x1="241.3" y1="347.3" x2="255.9" y2="347.3" stroke="#28b6b6" stroke-width="1.1"/>
<path d="M270.1 321.4V341.9M270.1 353.3V382.3M266.5 321.4H273.7M266.5 382.3H273.7" stroke="#a98fdb" stroke-width="1" fill="none" opacity="0.85"/>
<rect x="262.8" y="341.9" width="14.6" height="11.4" fill="#d5c8ee" stroke="#a98fdb" stroke-width="1"/>
<line x1="262.8" y1="346.9" x2="277.4" y2="346.9" stroke="#8f6fca" stroke-width="1.1"/>
<path d="M291.6 355.8V357.8M291.6 364.3V364.8M288 355.8H295.2M288 364.8H295.2" stroke="#ddc0e9" stroke-width="1" fill="none" opacity="0.85"/>
<rect x="284.3" y="357.8" width="14.6" height="6.5" fill="#f4e7f7" stroke="#ddc0e9" stroke-width="1"/>
<line x1="284.3" y1="361.1" x2="298.9" y2="361.1" stroke="#d2b0e2" stroke-width="1.1"/>
<path d="M190.7 294.1H305.9V389.5" fill="none" stroke="#7a7a7a" stroke-width="1.2" stroke-linecap="square"/>
<path d="M190.7 294.1V389.5H305.9" fill="none" stroke="#585858" stroke-width="1.2" stroke-linecap="square"/>
<line x1="188.9" y1="389.5" x2="190.7" y2="389.5" stroke="#585858" stroke-width="1"/>
<text transform="translate(186.1 391.8) scale(0.85 1)" class="yt">6</text>
<line x1="188.9" y1="373.6" x2="190.7" y2="373.6" stroke="#585858" stroke-width="1"/>
<text transform="translate(186.1 375.9) scale(0.85 1)" class="yt">8</text>
<line x1="188.9" y1="357.7" x2="190.7" y2="357.7" stroke="#585858" stroke-width="1"/>
<text transform="translate(186.1 360) scale(0.85 1)" class="yt">10</text>
<line x1="188.9" y1="341.8" x2="190.7" y2="341.8" stroke="#585858" stroke-width="1"/>
<text transform="translate(186.1 344.1) scale(0.85 1)" class="yt">12</text>
<line x1="188.9" y1="325.9" x2="190.7" y2="325.9" stroke="#585858" stroke-width="1"/>
<text transform="translate(186.1 328.2) scale(0.85 1)" class="yt">14</text>
<line x1="188.9" y1="310" x2="190.7" y2="310" stroke="#585858" stroke-width="1"/>
<text transform="translate(186.1 312.3) scale(0.85 1)" class="yt">16</text>
<line x1="188.9" y1="294.1" x2="190.7" y2="294.1" stroke="#585858" stroke-width="1"/>
<text transform="translate(186.1 296.4) scale(0.85 1)" class="yt">18</text>
<line x1="205.6" y1="389.5" x2="205.6" y2="392.4" stroke="#585858" stroke-width="1.1"/>
<text x="202" y="401.9" class="xt">Normal</text>
<line x1="227.1" y1="389.5" x2="227.1" y2="392.4" stroke="#585858" stroke-width="1.1"/>
<text x="226.8" y="401.9" class="xt">G1</text>
<line x1="248.6" y1="389.5" x2="248.6" y2="392.4" stroke="#585858" stroke-width="1.1"/>
<text x="248.3" y="401.9" class="xt">G2</text>
<line x1="270.1" y1="389.5" x2="270.1" y2="392.4" stroke="#585858" stroke-width="1.1"/>
<text x="269.8" y="401.9" class="xt">G3</text>
<line x1="291.6" y1="389.5" x2="291.6" y2="392.4" stroke="#585858" stroke-width="1.1"/>
<text x="291.3" y="401.9" class="xt">G4</text>
<text x="249.6" y="291.2" class="ti">CDK6</text>
</g>
<g>
<line x1="359.3" y1="339.8" x2="381.9" y2="339.8" stroke="#b4b4b4" stroke-width="1.0"/>
<text x="370.6" y="340.6" class="st">****</text>
<line x1="359.3" y1="321.8" x2="403" y2="321.8" stroke="#b4b4b4" stroke-width="1.0"/>
<text x="381.8" y="322.6" class="st">****</text>
<line x1="359.3" y1="316.7" x2="424.9" y2="316.7" stroke="#b4b4b4" stroke-width="1.0"/>
<text x="394.5" y="317.5" class="st">****</text>
<line x1="359.3" y1="311.8" x2="445" y2="311.8" stroke="#b4b4b4" stroke-width="1.0"/>
<text x="401.5" y="312.6" class="st">****</text>
<line x1="381.1" y1="374.5" x2="425.7" y2="374.5" stroke="#b4b4b4" stroke-width="1.0"/>
<text x="404" y="375.3" class="st">*</text>
<line x1="381.1" y1="380" x2="446.8" y2="380" stroke="#b4b4b4" stroke-width="1.0"/>
<text x="410.1" y="380.8" class="st">*</text>
<path d="M360.5 356.3V362.3M360.5 371.3V378.8M356.9 356.3H364.1M356.9 378.8H364.1" stroke="#8a8a8a" stroke-width="1" fill="none" opacity="0.85"/>
<rect x="353.2" y="362.3" width="14.6" height="9" fill="#e1e1e1" stroke="#8a8a8a" stroke-width="1"/>
<line x1="353.2" y1="365.3" x2="367.8" y2="365.3" stroke="#707070" stroke-width="1.1"/>
<path d="M382 342.1V350.6M382 360.3V367.3M378.4 342.1H385.6M378.4 367.3H385.6" stroke="#ff8fb8" stroke-width="1" fill="none" opacity="0.85"/>
<rect x="374.7" y="350.6" width="14.6" height="9.7" fill="#ffdbe8" stroke="#ff8fb8" stroke-width="1"/>
<line x1="374.7" y1="355.3" x2="389.3" y2="355.3" stroke="#ff80ad" stroke-width="1.1"/>
<path d="M403.5 323.4V349.4M403.5 358.3V368.8M399.9 323.4H407.1M399.9 368.8H407.1" stroke="#3cc4c4" stroke-width="1" fill="none" opacity="0.85"/>
<rect x="396.2" y="349.4" width="14.6" height="8.9" fill="#c6eeee" stroke="#3cc4c4" stroke-width="1"/>
<line x1="396.2" y1="353.8" x2="410.8" y2="353.8" stroke="#28b6b6" stroke-width="1.1"/>
<path d="M425 329.9V348.4M425 357.3V367.8M421.4 329.9H428.6M421.4 367.8H428.6" stroke="#a98fdb" stroke-width="1" fill="none" opacity="0.85"/>
<rect x="417.7" y="348.4" width="14.6" height="8.9" fill="#d5c8ee" stroke="#a98fdb" stroke-width="1"/>
<line x1="417.7" y1="351.3" x2="432.3" y2="351.3" stroke="#8f6fca" stroke-width="1.1"/>
<path d="M446.5 335.4V336.1M446.5 351.6V352.3M442.9 335.4H450.1M442.9 352.3H450.1" stroke="#ddc0e9" stroke-width="1" fill="none" opacity="0.85"/>
<rect x="439.2" y="336.1" width="14.6" height="15.5" fill="#f4e7f7" stroke="#ddc0e9" stroke-width="1"/>
<line x1="439.2" y1="343.9" x2="453.8" y2="343.9" stroke="#d2b0e2" stroke-width="1.1"/>
<path d="M345.8 293.8H462.7V389.5" fill="none" stroke="#7a7a7a" stroke-width="1.2" stroke-linecap="square"/>
<path d="M345.8 293.8V389.5H462.7" fill="none" stroke="#585858" stroke-width="1.2" stroke-linecap="square"/>
<line x1="344" y1="389.5" x2="345.8" y2="389.5" stroke="#585858" stroke-width="1"/>
<text transform="translate(341.2 391.8) scale(0.85 1)" class="yt">4</text>
<line x1="344" y1="373.55" x2="345.8" y2="373.55" stroke="#585858" stroke-width="1"/>
<text transform="translate(341.2 375.85) scale(0.85 1)" class="yt">6</text>
<line x1="344" y1="357.6" x2="345.8" y2="357.6" stroke="#585858" stroke-width="1"/>
<text transform="translate(341.2 359.9) scale(0.85 1)" class="yt">8</text>
<line x1="344" y1="341.65" x2="345.8" y2="341.65" stroke="#585858" stroke-width="1"/>
<text transform="translate(341.2 343.95) scale(0.85 1)" class="yt">10</text>
<line x1="344" y1="325.7" x2="345.8" y2="325.7" stroke="#585858" stroke-width="1"/>
<text transform="translate(341.2 328) scale(0.85 1)" class="yt">12</text>
<line x1="344" y1="309.75" x2="345.8" y2="309.75" stroke="#585858" stroke-width="1"/>
<text transform="translate(341.2 312.05) scale(0.85 1)" class="yt">14</text>
<line x1="344" y1="293.8" x2="345.8" y2="293.8" stroke="#585858" stroke-width="1"/>
<text transform="translate(341.2 296.1) scale(0.85 1)" class="yt">16</text>
<line x1="360.5" y1="389.5" x2="360.5" y2="392.4" stroke="#585858" stroke-width="1.1"/>
<text x="356.9" y="401.9" class="xt">Normal</text>
<line x1="382" y1="389.5" x2="382" y2="392.4" stroke="#585858" stroke-width="1.1"/>
<text x="381.7" y="401.9" class="xt">G1</text>
<line x1="403.5" y1="389.5" x2="403.5" y2="392.4" stroke="#585858" stroke-width="1.1"/>
<text x="403.2" y="401.9" class="xt">G2</text>
<line x1="425" y1="389.5" x2="425" y2="392.4" stroke="#585858" stroke-width="1.1"/>
<text x="424.7" y="401.9" class="xt">G3</text>
<line x1="446.5" y1="389.5" x2="446.5" y2="392.4" stroke="#585858" stroke-width="1.1"/>
<text x="446.2" y="401.9" class="xt">G4</text>
<text x="404.15" y="291.2" class="ti">E2F1</text>
</g>
<g>
<line x1="46.4" y1="474.1" x2="68.8" y2="474.1" stroke="#b4b4b4" stroke-width="1.0"/>
<text x="57.9" y="474.9" class="st">*</text>
<line x1="46.4" y1="469.2" x2="90.7" y2="469.2" stroke="#b4b4b4" stroke-width="1.0"/>
<text x="68.9" y="470" class="st">****</text>
<line x1="46.4" y1="464.1" x2="112.1" y2="464.1" stroke="#b4b4b4" stroke-width="1.0"/>
<text x="81.2" y="464.9" class="st">****</text>
<line x1="46.4" y1="459.2" x2="132.3" y2="459.2" stroke="#b4b4b4" stroke-width="1.0"/>
<text x="88.5" y="460" class="st">****</text>
<line x1="68.6" y1="509.6" x2="113.4" y2="509.6" stroke="#b4b4b4" stroke-width="1.0"/>
<text x="91.1" y="510.4" class="st">*</text>
<line x1="68.6" y1="514.8" x2="134.9" y2="514.8" stroke="#b4b4b4" stroke-width="1.0"/>
<text x="100.1" y="515.6" class="st">*</text>
<line x1="89.8" y1="519.8" x2="134.9" y2="519.8" stroke="#b4b4b4" stroke-width="1.0"/>
<text x="112.2" y="520.6" class="st">*</text>
<path d="M47.9 485.9V488.9M47.9 495.6V523.3M44.3 485.9H51.5M44.3 523.3H51.5" stroke="#8a8a8a" stroke-width="1" fill="none" opacity="0.85"/>
<rect x="40.6" y="488.9" width="14.6" height="6.7" fill="#e1e1e1" stroke="#8a8a8a" stroke-width="1"/>
<line x1="40.6" y1="491.9" x2="55.2" y2="491.9" stroke="#707070" stroke-width="1.1"/>
<path d="M69.4 476.4V487.4M69.4 492.6V498.8M65.8 476.4H73M65.8 498.8H73" stroke="#ff8fb8" stroke-width="1" fill="none" opacity="0.85"/>
<rect x="62.1" y="487.4" width="14.6" height="5.2" fill="#ffdbe8" stroke="#ff8fb8" stroke-width="1"/>
<line x1="62.1" y1="490.1" x2="76.7" y2="490.1" stroke="#ff80ad" stroke-width="1.1"/>
<path d="M90.9 475.9V484.4M90.9 491.9V504.3M87.3 475.9H94.5M87.3 504.3H94.5" stroke="#3cc4c4" stroke-width="1" fill="none" opacity="0.85"/>
<rect x="83.6" y="484.4" width="14.6" height="7.5" fill="#c6eeee" stroke="#3cc4c4" stroke-width="1"/>
<line x1="83.6" y1="487.9" x2="98.2" y2="487.9" stroke="#28b6b6" stroke-width="1.1"/>
<path d="M112.4 475.4V483.1M112.4 489.1V502.3M108.8 475.4H116M108.8 502.3H116" stroke="#a98fdb" stroke-width="1" fill="none" opacity="0.85"/>
<rect x="105.1" y="483.1" width="14.6" height="6" fill="#d5c8ee" stroke="#a98fdb" stroke-width="1"/>
<line x1="105.1" y1="486.1" x2="119.7" y2="486.1" stroke="#8f6fca" stroke-width="1.1"/>
<path d="M133.9 477.9V478.4M133.9 482.4V482.9M130.3 477.9H137.5M130.3 482.9H137.5" stroke="#ddc0e9" stroke-width="1" fill="none" opacity="0.85"/>
<rect x="126.6" y="478.4" width="14.6" height="4" fill="#f4e7f7" stroke="#ddc0e9" stroke-width="1"/>
<line x1="126.6" y1="480.4" x2="141.2" y2="480.4" stroke="#d2b0e2" stroke-width="1.1"/>
<path d="M33 436.1H148.3V532.1" fill="none" stroke="#7a7a7a" stroke-width="1.2" stroke-linecap="square"/>
<path d="M33 436.1V532.1H148.3" fill="none" stroke="#585858" stroke-width="1.2" stroke-linecap="square"/>
<line x1="31.2" y1="532.1" x2="33" y2="532.1" stroke="#585858" stroke-width="1"/>
<text transform="translate(28.4 534.4) scale(0.85 1)" class="yt">2</text>
<line x1="31.2" y1="518.39" x2="33" y2="518.39" stroke="#585858" stroke-width="1"/>
<text transform="translate(28.4 520.69) scale(0.85 1)" class="yt">4</text>
<line x1="31.2" y1="504.67" x2="33" y2="504.67" stroke="#585858" stroke-width="1"/>
<text transform="translate(28.4 506.97) scale(0.85 1)" class="yt">6</text>
<line x1="31.2" y1="490.96" x2="33" y2="490.96" stroke="#585858" stroke-width="1"/>
<text transform="translate(28.4 493.26) scale(0.85 1)" class="yt">8</text>
<line x1="31.2" y1="477.24" x2="33" y2="477.24" stroke="#585858" stroke-width="1"/>
<text transform="translate(28.4 479.54) scale(0.85 1)" class="yt">10</text>
<line x1="31.2" y1="463.53" x2="33" y2="463.53" stroke="#585858" stroke-width="1"/>
<text transform="translate(28.4 465.83) scale(0.85 1)" class="yt">12</text>
<line x1="31.2" y1="449.81" x2="33" y2="449.81" stroke="#585858" stroke-width="1"/>
<text transform="translate(28.4 452.11) scale(0.85 1)" class="yt">14</text>
<line x1="31.2" y1="436.1" x2="33" y2="436.1" stroke="#585858" stroke-width="1"/>
<text transform="translate(28.4 438.4) scale(0.85 1)" class="yt">16</text>
<line x1="47.9" y1="532.1" x2="47.9" y2="535" stroke="#585858" stroke-width="1.1"/>
<text x="44.3" y="544.5" class="xt">Normal</text>
<line x1="69.4" y1="532.1" x2="69.4" y2="535" stroke="#585858" stroke-width="1.1"/>
<text x="69.1" y="544.5" class="xt">G1</text>
<line x1="90.9" y1="532.1" x2="90.9" y2="535" stroke="#585858" stroke-width="1.1"/>
<text x="90.6" y="544.5" class="xt">G2</text>
<line x1="112.4" y1="532.1" x2="112.4" y2="535" stroke="#585858" stroke-width="1.1"/>
<text x="112.1" y="544.5" class="xt">G3</text>
<line x1="133.9" y1="532.1" x2="133.9" y2="535" stroke="#585858" stroke-width="1.1"/>
<text x="133.6" y="544.5" class="xt">G4</text>
<text x="91.15" y="434" class="ti">FANCD2</text>
<text transform="translate(13.3 480.5) rotate(-90)" x="0" y="0" class="yl">Log2 (CPM+1)</text>
</g>
<g>
<line x1="203.4" y1="456.3" x2="226.4" y2="456.3" stroke="#b4b4b4" stroke-width="1.0"/>
<text x="216.3" y="457.1" class="st">****</text>
<line x1="203.4" y1="451.4" x2="247.5" y2="451.4" stroke="#b4b4b4" stroke-width="1.0"/>
<text x="226.9" y="452.2" class="st">***</text>
<line x1="246.9" y1="446.2" x2="269.4" y2="446.2" stroke="#b4b4b4" stroke-width="1.0"/>
<text x="258.9" y="447" class="st">**</text>
<line x1="225.8" y1="441.4" x2="269.4" y2="441.4" stroke="#b4b4b4" stroke-width="1.0"/>
<text x="247.7" y="442.2" class="st">****</text>
<path d="M204.9 468.4V473.1M204.9 489.4V520.8M201.3 468.4H208.5M201.3 520.8H208.5" stroke="#8a8a8a" stroke-width="1" fill="none" opacity="0.85"/>
<rect x="197.6" y="473.1" width="14.6" height="16.3" fill="#e1e1e1" stroke="#8a8a8a" stroke-width="1"/>
<line x1="197.6" y1="477.4" x2="212.2" y2="477.4" stroke="#707070" stroke-width="1.1"/>
<path d="M226.4 458.4V471.4M226.4 478.4V491.9M222.8 458.4H230M222.8 491.9H230" stroke="#ff8fb8" stroke-width="1" fill="none" opacity="0.85"/>
<rect x="219.1" y="471.4" width="14.6" height="7" fill="#ffdbe8" stroke="#ff8fb8" stroke-width="1"/>
<line x1="219.1" y1="474.9" x2="233.7" y2="474.9" stroke="#ff80ad" stroke-width="1.1"/>
<path d="M247.9 461.4V474.4M247.9 480.9V495.8M244.3 461.4H251.5M244.3 495.8H251.5" stroke="#3cc4c4" stroke-width="1" fill="none" opacity="0.85"/>
<rect x="240.6" y="474.4" width="14.6" height="6.5" fill="#c6eeee" stroke="#3cc4c4" stroke-width="1"/>
<line x1="240.6" y1="477.6" x2="255.2" y2="477.6" stroke="#28b6b6" stroke-width="1.1"/>
<path d="M269.4 467.4V477.4M269.4 485.4V496.6M265.8 467.4H273M265.8 496.6H273" stroke="#a98fdb" stroke-width="1" fill="none" opacity="0.85"/>
<rect x="262.1" y="477.4" width="14.6" height="8" fill="#d5c8ee" stroke="#a98fdb" stroke-width="1"/>
<line x1="262.1" y1="481.4" x2="276.7" y2="481.4" stroke="#8f6fca" stroke-width="1.1"/>
<path d="M290.9 482.9V483.4M290.9 487.4V487.9M287.3 482.9H294.5M287.3 487.9H294.5" stroke="#ddc0e9" stroke-width="1" fill="none" opacity="0.85"/>
<rect x="283.6" y="483.4" width="14.6" height="4" fill="#f4e7f7" stroke="#ddc0e9" stroke-width="1"/>
<line x1="283.6" y1="485.1" x2="298.2" y2="485.1" stroke="#d2b0e2" stroke-width="1.1"/>
<path d="M189.8 436H306.3V532.1" fill="none" stroke="#7a7a7a" stroke-width="1.2" stroke-linecap="square"/>
<path d="M189.8 436V532.1H306.3" fill="none" stroke="#585858" stroke-width="1.2" stroke-linecap="square"/>
<line x1="188" y1="521.42" x2="189.8" y2="521.42" stroke="#585858" stroke-width="1"/>
<text transform="translate(185.2 523.72) scale(0.85 1)" class="yt">8</text>
<line x1="188" y1="500.07" x2="189.8" y2="500.07" stroke="#585858" stroke-width="1"/>
<text transform="translate(185.2 502.37) scale(0.85 1)" class="yt">12</text>
<line x1="188" y1="478.71" x2="189.8" y2="478.71" stroke="#585858" stroke-width="1"/>
<text transform="translate(185.2 481.01) scale(0.85 1)" class="yt">16</text>
<line x1="188" y1="457.36" x2="189.8" y2="457.36" stroke="#585858" stroke-width="1"/>
<text transform="translate(185.2 459.66) scale(0.85 1)" class="yt">20</text>
<line x1="188" y1="436" x2="189.8" y2="436" stroke="#585858" stroke-width="1"/>
<text transform="translate(185.2 438.3) scale(0.85 1)" class="yt">24</text>
<line x1="204.9" y1="532.1" x2="204.9" y2="535" stroke="#585858" stroke-width="1.1"/>
<text x="201.3" y="544.5" class="xt">Normal</text>
<line x1="226.4" y1="532.1" x2="226.4" y2="535" stroke="#585858" stroke-width="1.1"/>
<text x="226.1" y="544.5" class="xt">G1</text>
<line x1="247.9" y1="532.1" x2="247.9" y2="535" stroke="#585858" stroke-width="1.1"/>
<text x="247.6" y="544.5" class="xt">G2</text>
<line x1="269.4" y1="532.1" x2="269.4" y2="535" stroke="#585858" stroke-width="1.1"/>
<text x="269.1" y="544.5" class="xt">G3</text>
<line x1="290.9" y1="532.1" x2="290.9" y2="535" stroke="#585858" stroke-width="1.1"/>
<text x="290.6" y="544.5" class="xt">G4</text>
<text x="246.55" y="434" class="ti">SFN</text>
</g>
</svg>
</body></html>
